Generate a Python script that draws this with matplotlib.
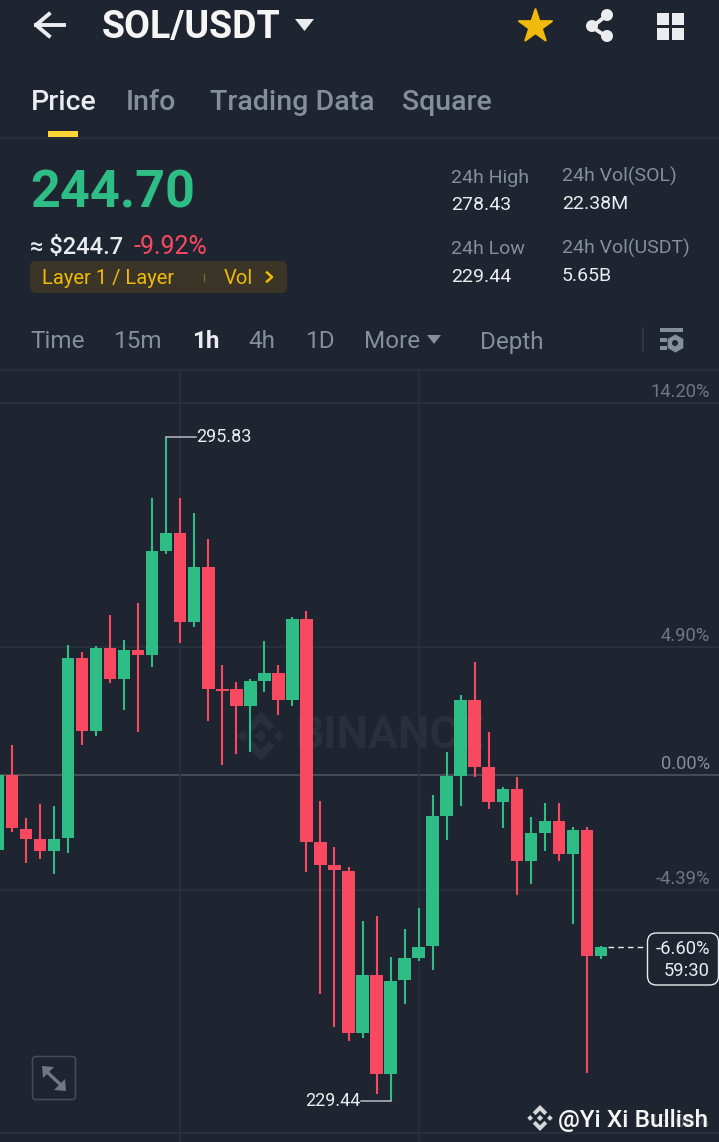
import matplotlib
matplotlib.use("Agg")
import matplotlib.pyplot as plt
from matplotlib.patches import FancyBboxPatch, Polygon, Rectangle, Circle
import numpy as np

# candles, oldest first
opens = [254.5, 262.0, 256.6, 255.6, 254.4, 255.7, 273.7, 266.4, 274.7, 271.6, 274.5,
         274.0, 284.4, 286.2, 277.3, 282.8, 270.6, 270.6, 268.9, 271.4, 272.2, 269.5,
         277.6, 255.3, 253.0, 252.4, 236.2, 242.0, 232.1, 241.5, 243.7, 244.9, 257.9,
         261.9, 269.5, 262.8, 259.3, 260.6, 253.4, 256.2, 257.4, 254.1, 256.5, 243.9]
closes = [262.0, 256.7, 255.6, 254.4, 255.6, 273.7, 266.4, 274.7, 271.6, 274.5, 274.0,
          284.4, 286.2, 277.3, 282.8, 270.6, 270.4, 268.9, 271.4, 272.2, 269.5, 277.6,
          255.3, 253.0, 252.5, 236.2, 242.0, 232.1, 241.4, 243.7, 244.8, 257.9, 261.9,
          269.5, 262.8, 259.3, 260.6, 253.4, 256.2, 257.4, 254.1, 256.5, 243.9, 244.8]
highs = [262.0, 265.0, 257.7, 259.1, 258.9, 275.0, 274.3, 274.9, 278.0, 275.5, 279.2,
         289.7, 295.83, 289.7, 288.2, 285.6, 273.0, 271.3, 271.6, 275.4, 273.0, 277.8,
         278.4, 259.4, 254.8, 252.8, 247.4, 247.9, 243.8, 246.6, 248.7, 260.0, 264.3,
         270.0, 273.3, 266.3, 260.8, 261.8, 257.8, 259.2, 259.2, 256.8, 256.8, 244.9]
lows = [254.4, 256.3, 253.2, 253.6, 252.1, 254.2, 265.0, 265.9, 271.2, 268.5, 266.3,
        272.8, 284.1, 275.2, 276.8, 267.4, 263.0, 264.1, 264.3, 270.3, 268.0, 268.9,
        252.3, 240.1, 236.8, 235.4, 235.7, 230.1, 229.44, 239.1, 243.4, 242.5, 255.5,
        258.9, 261.8, 258.6, 256.7, 250.0, 251.1, 254.4, 253.4, 247.1, 232.2, 243.6]

base_price = 262.0
pct_levels = [14.20, 4.90, 0.00, -4.39, -13.66]
pct_labels = ["14.20%", "4.90%", "0.00%", "-4.39%", "-13.66%"]
time_grid = [13, 30]

tabs = ["Price", "Info", "Trading Data", "Square"]
intervals = ["Time", "15m", "1h", "4h", "1D", "More", "Depth"]

BG = "#1f2530"
GREEN = "#2ebd85"
RED = "#f84960"
GRID = "#2b313c"
GREY = "#848e9c"
WHITE = "#eaecef"
FONT = "Roboto"

W, H = 719, 1142
fig = plt.figure(figsize=(W / 100, H / 100), dpi=100, facecolor=BG)

# back layer: watermark, front layer: app chrome, both in pixel coords
back = fig.add_axes([0, 0, 1, 1], zorder=1)
ui = fig.add_axes([0, 0, 1, 1], zorder=3)
for a in (back, ui):
    a.set_xlim(0, W)
    a.set_ylim(H, 0)
    a.axis("off")
    a.patch.set_alpha(0)


def txt(x, y, s, size, color=WHITE, ha="left", weight="normal", ax=ui, **kw):
    # roboto sits about 2 px high with va=center
    return ax.text(x, y + 2, s, fontsize=size, color=color, ha=ha, va="center",
                   family=FONT, fontweight=weight, **kw)


def diamond(ax, cx, cy, r, color):
    ax.add_patch(Polygon([(cx - r, cy), (cx, cy - r), (cx + r, cy), (cx, cy + r)],
                         color=color, lw=0))


def binance_logo(ax, cx, cy, s, color):
    diamond(ax, cx, cy, 0.24 * s, color)
    diamond(ax, cx - 0.76 * s, cy, 0.22 * s, color)
    diamond(ax, cx + 0.76 * s, cy, 0.22 * s, color)
    for d in (-1, 1):
        ax.add_patch(Polygon([(cx, cy + d * s), (cx + 0.56 * s, cy + d * 0.44 * s),
                              (cx + 0.34 * s, cy + d * 0.22 * s), (cx, cy + d * 0.56 * s),
                              (cx - 0.34 * s, cy + d * 0.22 * s), (cx - 0.56 * s, cy + d * 0.44 * s)],
                             color=color, lw=0))


# watermark behind the candles
binance_logo(back, 261, 736, 24, "#2a303b")
txt(295, 734, "BINANCE", 32, color="#2a303b", weight="bold", ax=back)

# chart, 14.02 px per candle and 10 px per price unit
ax = fig.add_axes([0, 0, 1, (H - 370) / H], zorder=2)
ax.patch.set_alpha(0)
ax.set_xlim(2 / 14.02, 721 / 14.02)
ax.set_ylim(base_price + (775 - H) / 10, base_price + (775 - 370) / 10)
ax.axis("off")

for p in pct_levels:
    ax.axhline(base_price * (1 + p / 100), color="#474d57" if p == 0 else GRID, lw=1.4, zorder=1)
for t in time_grid:
    ax.axvline(t, color=GRID, lw=1.2, zorder=1)

idx = np.arange(len(opens))
o, c = np.array(opens), np.array(closes)
cols = [GREEN if b >= a else RED for a, b in zip(opens, closes)]
ax.vlines(idx, lows, highs, colors=cols, lw=1.5, zorder=2)
ax.bar(idx, np.abs(c - o), bottom=np.minimum(o, c), width=12.4 / 14.02, color=cols, lw=0, zorder=3)

# high / low callouts
hi = int(np.argmax(highs))
lo = int(np.argmin(lows))
ax.plot([hi, hi + 2.1], [highs[hi], highs[hi]], color="#b7bdc6", lw=1.1, zorder=2)
ax.annotate(f"{highs[hi]:.2f}", (hi + 2.15, highs[hi]), color=WHITE, fontsize=13, va="center",
            family=FONT)
ax.plot([lo - 2.1, lo], [lows[lo], lows[lo]], color="#b7bdc6", lw=1.1, zorder=2)
ax.annotate(f"{lows[lo]:.2f}", (lo - 2.15, lows[lo]), color=WHITE, fontsize=13, va="center",
            ha="right", family=FONT)

# last price dashed line
ax.plot([len(opens) - 0.5, 46.2], [closes[-1], closes[-1]], color=WHITE, lw=1, ls=(0, (4, 3)), zorder=2)

# right axis labels
for p, lab in zip(pct_levels, pct_labels):
    y_px = 775 - (base_price * p / 100) * 10
    txt(710, y_px - 13, lab, 13.2, color="#6f7785" if p != 0 else GREY, ha="right",
        alpha=0.5 if p == -13.66 else 1)

# current price box
ui.add_patch(FancyBboxPatch((647.5, 933), 71, 52, boxstyle="round,pad=0,rounding_size=9",
                            fc=BG, ec=WHITE, lw=1))
txt(710, 947, "-6.60%", 13.2, ha="right")
txt(710, 969, "59:30", 13.2, ha="right")

# header
ui.plot([36, 64], [25, 25], color=WHITE, lw=2.8)
ui.plot([49, 36, 49], [14, 25, 36], color=WHITE, lw=2.8)
txt(102, 26, "SOL/USDT", 27, weight="bold", color="#f5f5f5")
ui.add_patch(Polygon([(295, 19), (314, 19), (304.5, 31)], color=WHITE, lw=0))
ui.scatter([535], [26], marker="*", s=620, color="#f0b90b", ec="#f0b90b", lw=1.5)

# share icon
ui.plot([607, 592, 607], [15, 27, 37], color=WHITE, lw=2.8)
for cx, cy, r in [(607, 15, 6), (592, 26, 6), (607, 36, 6)]:
    ui.add_patch(Circle((cx, cy), r, color=WHITE, lw=0))
# grid icon
for gx in (657, 672):
    for gy in (13, 28):
        ui.add_patch(Rectangle((gx, gy), 11.5, 11.5, color=WHITE, lw=0))

# tabs
for x, s, col in zip([31, 126, 210, 402], tabs, [WHITE, GREY, GREY, GREY]):
    txt(x, 101, s, 20.5, color=col, weight="medium")
ui.add_patch(Rectangle((48, 131), 30, 6, color="#fcd535", lw=0))
ui.plot([0, W], [137.5, 137.5], color="#2b313c", lw=1.2)

# price block
txt(30, 192, "244.70", 37.5, color=GREEN, weight="bold")
txt(30, 245, "≈ $244.7", 17, weight="medium")
txt(133, 245, "-9.92%", 18, color=RED)
ui.add_patch(FancyBboxPatch((30, 261), 257, 32, boxstyle="round,pad=0,rounding_size=6",
                            fc="#3a3526", ec="none"))
txt(42, 276.5, "Layer 1 / Layer", 14.5, color="#f0b90b")
ui.plot([204, 204], [274, 281], color="#7a6a2a", lw=1)
txt(224, 276.5, "Vol", 14.5, color="#f0b90b")
ui.plot([267, 272, 267], [272.5, 277, 281.5], color="#f0b90b", lw=1.8)

# 24h stats
for x, y, s in [(451, 176, "24h High"), (562, 174, "24h Vol(SOL)"),
                (451, 247, "24h Low"), (562, 246, "24h Vol(USDT)")]:
    txt(x, y, s, 14, color=GREY)
for x, y, s in [(451, 203, "278.43"), (562, 202, "22.38M"),
                (451, 275, "229.44"), (562, 274, "5.65B")]:
    txt(x, y, s, 14, color=WHITE)

# interval row
for x, s in zip([30, 114, 192, 248, 306, 364, 480], intervals):
    if s == "1h":
        txt(x, 340, s, 17.5, color=WHITE, weight="bold")
    else:
        txt(x, 340, s, 17.5, color=GREY)
ui.add_patch(Polygon([(427, 335), (441, 335), (434, 344)], color=GREY, lw=0))
ui.plot([642.5, 642.5], [328, 351], color="#343a45", lw=1.2)
ui.add_patch(Rectangle((660, 328), 23, 4, color=GREY, lw=0))
ui.add_patch(Rectangle((660, 338), 7, 4, color=GREY, lw=0))
ui.add_patch(Rectangle((660, 346), 7, 4, color=GREY, lw=0))
ui.scatter([675], [343], marker="h", s=170, color=GREY, lw=0)
ui.add_patch(Circle((675, 343), 3, color=BG, lw=0))
ui.plot([0, W], [370, 370], color="#2b313c", lw=1.2)

# expand button
ui.add_patch(FancyBboxPatch((32.5, 1056.5), 43, 43, boxstyle="round,pad=0,rounding_size=3",
                            fc=BG, ec="#474d57", lw=1.1))
ui.plot([46, 62], [1071, 1086], color="#6f7785", lw=2.4)
ui.add_patch(Polygon([(42, 1066), (54, 1067), (43, 1078)], color="#6f7785", lw=0))
ui.add_patch(Polygon([(66, 1091), (54, 1090), (65, 1079)], color="#6f7785", lw=0))

# repost watermark
binance_logo(ui, 540, 1118, 13, "#d5d7da")
txt(558, 1118, "@Yi Xi Bullish", 17.6, color="#f5f5f5", weight="medium")

fig.savefig("out.png", dpi=100, facecolor=BG)
